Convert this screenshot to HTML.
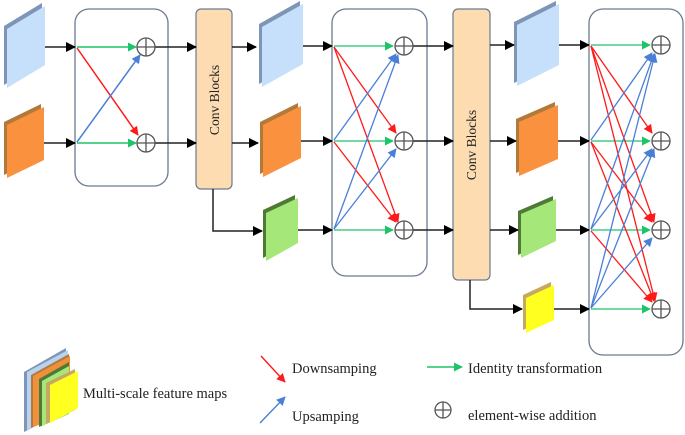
<!DOCTYPE html>
<html><head><meta charset="utf-8"><style>
html,body{margin:0;padding:0;background:#fff;}
svg{display:block;font-family:"Liberation Serif",serif;}
</style></head><body>
<svg width="685" height="435" viewBox="0 0 685 435" xmlns="http://www.w3.org/2000/svg">
<defs>
<marker id="k" viewBox="0 0 10 10" refX="9" refY="5" markerWidth="10" markerHeight="10" markerUnits="userSpaceOnUse" orient="auto"><path d="M0,0L10,5L0,10z" fill="#000"/></marker>
<marker id="g" viewBox="0 0 10 10" refX="9" refY="5" markerWidth="9" markerHeight="9" markerUnits="userSpaceOnUse" orient="auto"><path d="M0,0L10,5L0,10z" fill="#1ec46a"/></marker>
<marker id="r" viewBox="0 0 10 10" refX="9" refY="5" markerWidth="9" markerHeight="9" markerUnits="userSpaceOnUse" orient="auto"><path d="M0,0L10,5L0,10z" fill="#ff1a1a"/></marker>
<marker id="b" viewBox="0 0 10 10" refX="9" refY="5" markerWidth="9" markerHeight="9" markerUnits="userSpaceOnUse" orient="auto"><path d="M0,0L10,5L0,10z" fill="#4a7fd8"/></marker>
</defs>

<g fill="none" stroke="#6b7a90" stroke-width="1.3">
<rect x="75" y="9" width="93" height="177" rx="14"/>
<rect x="332" y="9" width="95" height="267" rx="14"/>
<rect x="589" y="9" width="94" height="346" rx="14"/>
</g>
<rect x="196" y="9" width="36" height="180" rx="5" fill="#fddcb2" stroke="#6b7a90" stroke-width="1.2"/>
<rect x="453" y="9" width="37" height="271" rx="5" fill="#fddcb2" stroke="#6b7a90" stroke-width="1.2"/>
<text transform="translate(219,100) rotate(-90)" text-anchor="middle" font-size="13.5" fill="#222">Conv Blocks</text>
<text transform="translate(476,145) rotate(-90)" text-anchor="middle" font-size="13.5" fill="#222">Conv Blocks</text>

<g>
<polygon points="4,26 42,3 42,62 4,85" fill="#7e95b8"/><polygon points="7,29 45,6 45,65 7,88" fill="#c6e0fb"/>
<polygon points="4,122 41,104 41,157 4,175" fill="#b27a3a"/><polygon points="7,125 44,107 44,160 7,178" fill="#f9913f"/>
<polygon points="259,24 300,1 300,61 259,84" fill="#7e95b8"/><polygon points="262,27 303,4 303,64 262,87" fill="#c6e0fb"/>
<polygon points="260,122 298,103 298,155 260,174" fill="#b27a3a"/><polygon points="263,125 301,106 301,158 263,177" fill="#f9913f"/>
<polygon points="263,210 295,195 295,240 263,258" fill="#4f7a35"/><polygon points="266,213 298,198 298,243 266,261" fill="#a6e77a"/>
<polygon points="514,22 556,1 556,62 514,83" fill="#7e95b8"/><polygon points="517,25 559,4 559,65 517,86" fill="#c6e0fb"/>
<polygon points="516,119 555,102 555,156 516,173" fill="#b27a3a"/><polygon points="519,122 558,105 558,159 519,176" fill="#f9913f"/>
<polygon points="518,211 553,196 553,238 518,255" fill="#4f7a35"/><polygon points="521,214 556,199 556,241 521,258" fill="#a6e77a"/>
<polygon points="523,295 551,282 551,317 523,330" fill="#c8a860"/><polygon points="526,298 554,285 554,320 526,333" fill="#ffff20"/>
</g>

<g stroke="#222" stroke-width="1.5" fill="none" marker-end="url(#k)">
<line x1="45" y1="47" x2="75" y2="47"/>
<line x1="44" y1="143" x2="75" y2="143"/>
<line x1="155" y1="47" x2="196" y2="47"/>
<line x1="155" y1="143" x2="196" y2="143"/>
<line x1="232" y1="47" x2="256" y2="47"/>
<line x1="232" y1="143" x2="258" y2="143"/>
<polyline points="213,189 213,231 262,231"/>
<line x1="303" y1="46" x2="332" y2="46"/>
<line x1="301" y1="141" x2="332" y2="141"/>
<line x1="298" y1="230" x2="332" y2="230"/>
<line x1="413" y1="46" x2="453" y2="46"/>
<line x1="413" y1="141" x2="453" y2="141"/>
<line x1="413" y1="230" x2="453" y2="230"/>
<line x1="490" y1="45" x2="514" y2="45"/>
<line x1="490" y1="141" x2="516" y2="141"/>
<line x1="490" y1="230" x2="518" y2="230"/>
<polyline points="470,280 470,309 522,309"/>
<line x1="559" y1="45" x2="589" y2="45"/>
<line x1="558" y1="141" x2="589" y2="141"/>
<line x1="556" y1="230" x2="589" y2="230"/>
<line x1="554" y1="309" x2="589" y2="309"/>
</g>

<g stroke-width="1.5" fill="none">
<line x1="77" y1="47" x2="136" y2="47" stroke="#1ec46a" marker-end="url(#g)"/>
<line x1="77" y1="143" x2="136" y2="143" stroke="#1ec46a" marker-end="url(#g)"/>
<line x1="77" y1="48" x2="138" y2="135" stroke="#ff1a1a" marker-end="url(#r)"/>
<line x1="77" y1="142" x2="140" y2="55" stroke="#4a7fd8" marker-end="url(#b)"/>
</g>
<g stroke-width="1.3" fill="none">
<line x1="334" y1="46" x2="393" y2="46" stroke="#1ec46a" marker-end="url(#g)"/>
<line x1="334" y1="141" x2="393" y2="141" stroke="#1ec46a" marker-end="url(#g)"/>
<line x1="334" y1="230" x2="393" y2="230" stroke="#1ec46a" marker-end="url(#g)"/>
<line x1="334" y1="47" x2="396" y2="133" stroke="#ff1a1a" marker-end="url(#r)"/>
<line x1="334" y1="47" x2="398" y2="222" stroke="#ff1a1a" marker-end="url(#r)"/>
<line x1="334" y1="142" x2="396" y2="222" stroke="#ff1a1a" marker-end="url(#r)"/>
<line x1="334" y1="140" x2="396" y2="54" stroke="#4a7fd8" marker-end="url(#b)"/>
<line x1="334" y1="229" x2="398" y2="55" stroke="#4a7fd8" marker-end="url(#b)"/>
<line x1="334" y1="229" x2="396" y2="149" stroke="#4a7fd8" marker-end="url(#b)"/>
</g>
<g stroke-width="1.3" fill="none">
<line x1="591" y1="45" x2="650" y2="45" stroke="#1ec46a" marker-end="url(#g)"/>
<line x1="591" y1="141" x2="650" y2="141" stroke="#1ec46a" marker-end="url(#g)"/>
<line x1="591" y1="230" x2="650" y2="230" stroke="#1ec46a" marker-end="url(#g)"/>
<line x1="591" y1="309" x2="650" y2="309" stroke="#1ec46a" marker-end="url(#g)"/>
<line x1="591" y1="46" x2="652" y2="133" stroke="#ff1a1a" marker-end="url(#r)"/>
<line x1="591" y1="46" x2="654" y2="222" stroke="#ff1a1a" marker-end="url(#r)"/>
<line x1="591" y1="46" x2="655" y2="301" stroke="#ff1a1a" marker-end="url(#r)"/>
<line x1="591" y1="142" x2="652" y2="222" stroke="#ff1a1a" marker-end="url(#r)"/>
<line x1="591" y1="142" x2="654" y2="301" stroke="#ff1a1a" marker-end="url(#r)"/>
<line x1="591" y1="231" x2="652" y2="302" stroke="#ff1a1a" marker-end="url(#r)"/>
<line x1="591" y1="140" x2="652" y2="53" stroke="#4a7fd8" marker-end="url(#b)"/>
<line x1="591" y1="229" x2="654" y2="54" stroke="#4a7fd8" marker-end="url(#b)"/>
<line x1="591" y1="308" x2="655" y2="54" stroke="#4a7fd8" marker-end="url(#b)"/>
<line x1="591" y1="229" x2="652" y2="149" stroke="#4a7fd8" marker-end="url(#b)"/>
<line x1="591" y1="308" x2="654" y2="149" stroke="#4a7fd8" marker-end="url(#b)"/>
<line x1="591" y1="308" x2="652" y2="238" stroke="#4a7fd8" marker-end="url(#b)"/>
</g>

<g fill="#fff" stroke="#555" stroke-width="1.3">
<g transform="translate(146,47)"><circle r="9"/><path d="M-9,0H9M0,-9V9"/></g>
<g transform="translate(146,143)"><circle r="9"/><path d="M-9,0H9M0,-9V9"/></g>
<g transform="translate(404,46)"><circle r="9"/><path d="M-9,0H9M0,-9V9"/></g>
<g transform="translate(404,141)"><circle r="9"/><path d="M-9,0H9M0,-9V9"/></g>
<g transform="translate(404,230)"><circle r="9"/><path d="M-9,0H9M0,-9V9"/></g>
<g transform="translate(661,45)"><circle r="9"/><path d="M-9,0H9M0,-9V9"/></g>
<g transform="translate(661,141)"><circle r="9"/><path d="M-9,0H9M0,-9V9"/></g>
<g transform="translate(661,230)"><circle r="9"/><path d="M-9,0H9M0,-9V9"/></g>
<g transform="translate(661,309)"><circle r="9"/><path d="M-9,0H9M0,-9V9"/></g>
<g transform="translate(443,410)"><circle r="8"/><path d="M-8,0H8M0,-8V8"/></g>
</g>

<!-- legend stack -->
<polygon points="24,372 66,348 66,410 24,432" fill="#7e95b8"/>
<polygon points="27,372 68,350 68,410 27,430" fill="#b9d2f0"/>
<polygon points="31,375 69,354 69,412 31,428" fill="#b27a3a"/>
<polygon points="33,376 70,356 70,412 33,427" fill="#f0903c"/>
<polygon points="39,379 69,362 69,414 39,427" fill="#4f7a35"/>
<polygon points="42,381 69,366 69,414 42,426" fill="#a6e77a"/>
<polygon points="46,383 75,369 75,410 46,424" fill="#c8a860"/>
<polygon points="50,385 78,371 78,408 50,423" fill="#ffff20"/>

<g font-size="14.5" fill="#222">
<text x="83" y="398">Multi-scale feature maps</text>
<text x="292" y="373">Downsamping</text>
<text x="292" y="421">Upsamping</text>
<text x="468" y="373">Identity transformation</text>
<text x="468" y="420">element-wise addition</text>
</g>
<line x1="261" y1="356" x2="285" y2="382" stroke="#ff1a1a" stroke-width="1.4" marker-end="url(#r)"/>
<line x1="260" y1="423" x2="285" y2="397" stroke="#4a7fd8" stroke-width="1.4" marker-end="url(#b)"/>
<line x1="427" y1="367" x2="462" y2="367" stroke="#1ec46a" stroke-width="1.5" marker-end="url(#g)"/>
</svg>
</body></html>
